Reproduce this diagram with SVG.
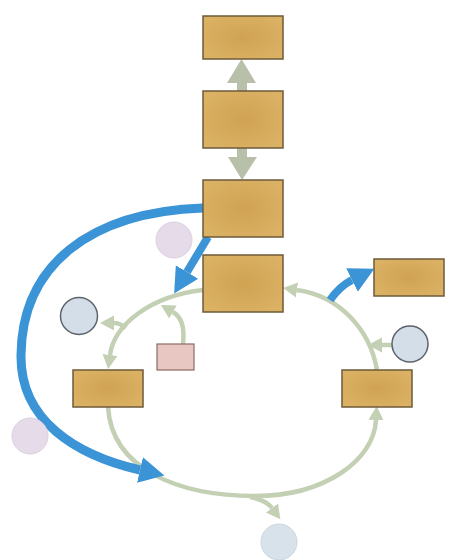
<svg xmlns="http://www.w3.org/2000/svg" width="474" height="560" viewBox="0 0 474 560">
<style>
.box{fill:url(#boxg);stroke:#6e5a3a;stroke-width:1.5}
.g{fill:none;stroke:#c4d0b4;stroke-width:4.5}
.b{fill:none;stroke:#3b94d6;stroke-width:9}
.ga{fill:#b9c0aa}
.circ{fill:#d3dee8;stroke:#5c636b;stroke-width:1.5}
.faint{fill:#e6dbe8;stroke:#ddd0e0;stroke-width:1}
</style>
<defs>
<radialGradient id="boxg" cx="0.5" cy="0.5" r="0.6">
<stop offset="0" stop-color="#cfa352"/>
<stop offset="1" stop-color="#dbb164"/>
</radialGradient>
<marker id="ma-b" markerUnits="userSpaceOnUse" viewBox="0 -14 26 28" markerWidth="26" markerHeight="28" refX="0" refY="0" orient="auto">
<path d="M0,-13 L25,0 L0,13 z" fill="#3b94d6"/>
</marker>
<marker id="ma-g" markerUnits="userSpaceOnUse" viewBox="0 -8 15 16" markerWidth="15" markerHeight="16" refX="0" refY="0" orient="auto">
<path d="M0,-7.5 L14,0 L0,7.5 z" fill="#c4d0b4"/>
</marker>
</defs>
<rect width="474" height="560" fill="#ffffff"/>
<g id="connectors">
<polygon class="ga" points="237,91 247,91 247,83 256,83 241.5,59 227,83 237,83"/>
<polygon class="ga" points="237,148 247,148 247,157 257,157 242,180 228,157 237,157"/>
<path class="g" d="M203,290 C150,296 114,325 110,355" marker-end="url(#ma-g)"/>
<path class="g" d="M126,328 Q120,323 114,323" marker-end="url(#ma-g)"/>
<path class="g" d="M183,344 C185,326 180,316 173,312" marker-end="url(#ma-g)"/>
<path class="g" d="M108,407 C112,470 180,496 255,496 C325,496 374,460 376,420" marker-end="url(#ma-g)"/>
<path class="g" d="M250,497 Q266,500 272,508" marker-end="url(#ma-g)"/>
<path class="g" d="M377,370 C370,330 340,296 297,290" marker-end="url(#ma-g)"/>
<path class="g" d="M392,345 L382,345" marker-end="url(#ma-g)"/>
<path class="b" d="M203,208 C90,212 22,265 21,355 C20,420 75,455 140,470" marker-end="url(#ma-b)"/>
<path class="b" style="stroke-width:8" d="M208,237 L187,272" marker-end="url(#ma-b)"/>
<path class="b" style="stroke-width:8" d="M330,300 Q340,286 352,280" marker-end="url(#ma-b)"/>
</g>
<g id="n1"><rect class="box" x="203" y="16" width="80" height="43"/></g>
<g id="n2"><rect class="box" x="203" y="91" width="80" height="57"/></g>
<g id="n3"><rect class="box" x="203" y="180" width="80" height="57"/></g>
<g id="n4"><rect class="box" x="203" y="255" width="80" height="57"/></g>
<g id="n5"><rect class="box" x="374" y="259" width="70" height="37"/></g>
<g id="n6"><rect class="box" x="342" y="370" width="70" height="37"/></g>
<g id="n7"><rect class="box" x="73" y="370" width="70" height="37"/></g>
<g id="n8"><rect x="157" y="344" width="37" height="26" fill="#e8c6c2" stroke="#8e6a66" stroke-width="1.2"/></g>
<g id="c1"><circle class="circ" cx="79" cy="316" r="18.5"/></g>
<g id="c2"><circle class="circ" cx="410" cy="344" r="18"/></g>
<g id="c3"><circle class="faint" cx="174" cy="240" r="18"/></g>
<g id="c4"><circle class="faint" cx="30" cy="436" r="18"/></g>
<g id="c5"><circle cx="279" cy="542" r="18" fill="#d8e2eb" stroke="#cbd6df" stroke-width="1"/></g>
</svg>
